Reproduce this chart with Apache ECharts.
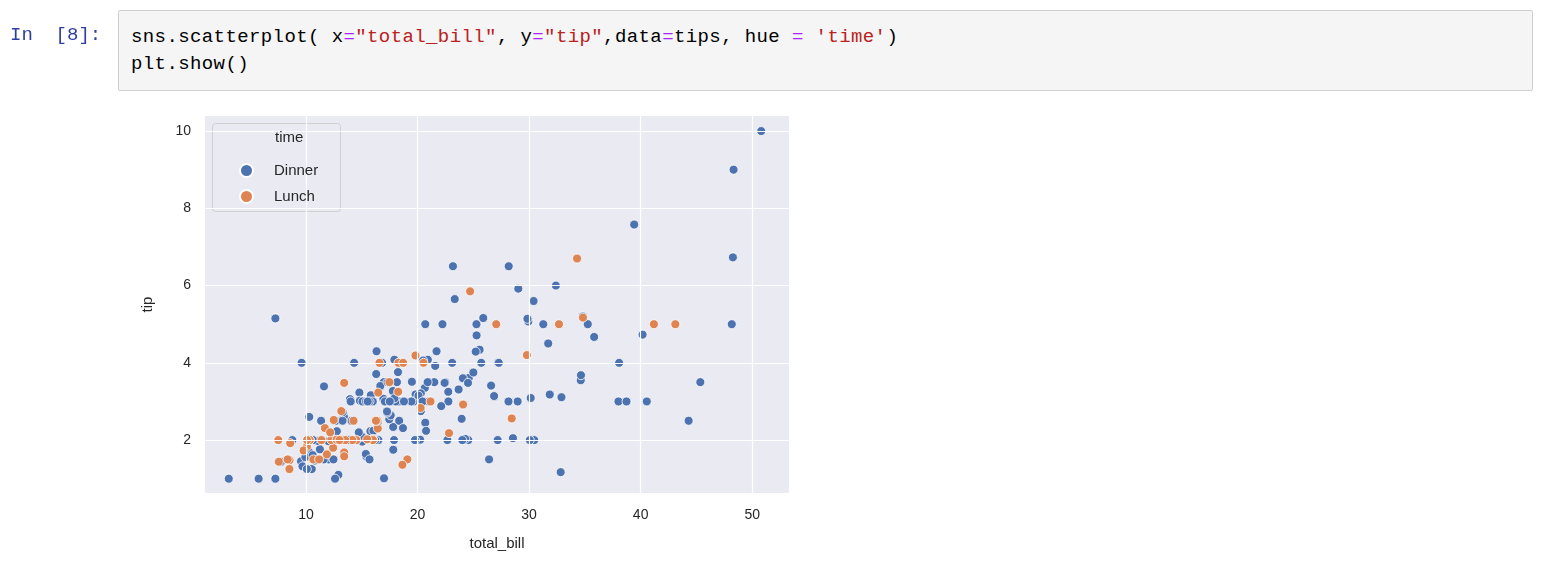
<!DOCTYPE html>
<html><head><meta charset="utf-8">
<script src="https://cdn.jsdelivr.net/npm/echarts@6/dist/echarts.min.js"></script>
<style>
body{margin:0;background:#fff;width:1545px;height:564px;overflow:hidden;position:relative}
#chart{position:absolute;left:0;top:0;width:1545px;height:564px}
.prompt{position:absolute;left:10px;top:24px;font:19px "Liberation Mono",monospace;color:#303f9f;white-space:pre}
.cell{position:absolute;left:118px;top:10px;width:1415px;height:81px;background:#f5f5f5;border:1px solid #cfcfcf;border-radius:2px;box-sizing:border-box}
.code{position:absolute;left:12px;top:13px;font:19px/27px "Liberation Mono",monospace;color:#000;white-space:pre;letter-spacing:0.4px}
.s{color:#ba2121}.o{color:#aa22ff}
</style></head><body>
<div id="chart"></div>
<div class="prompt">In  [8]:</div>
<div class="cell"><div class="code">sns.scatterplot( x<span class="o">=</span><span class="s">"total_bill"</span>, y<span class="o">=</span><span class="s">"tip"</span>,data<span class="o">=</span>tips, hue <span class="o">=</span> <span class="s">'time'</span>)
plt.show()</div></div>
<script>
const dinner = [[16.99,1.01],[10.34,1.66],[21.01,3.5],[23.68,3.31],[24.59,3.61],[25.29,4.71],[8.77,2.0],[26.88,3.12],[15.04,1.96],[14.78,3.23],[10.27,1.71],[35.26,5.0],[15.42,1.57],[18.43,3.0],[14.83,3.02],[21.58,3.92],[10.33,1.67],[16.29,3.71],[16.97,3.5],[20.65,3.35],[17.92,4.08],[20.29,2.75],[15.77,2.23],[39.42,7.58],[19.82,3.18],[17.81,2.34],[13.37,2.0],[12.69,2.0],[21.7,4.3],[19.65,3.0],[9.55,1.45],[18.35,2.5],[15.06,3.0],[20.69,2.45],[17.78,3.27],[24.06,3.6],[16.31,2.0],[16.93,3.07],[18.69,2.31],[31.27,5.0],[16.04,2.24],[17.46,2.54],[13.94,3.06],[9.68,1.32],[30.4,5.6],[18.29,3.0],[22.23,5.0],[32.4,6.0],[28.55,2.05],[18.04,3.0],[12.54,2.5],[10.29,2.6],[34.81,5.2],[9.94,1.56],[25.56,4.34],[19.49,3.51],[38.01,3.0],[26.41,1.5],[11.24,1.76],[48.27,6.73],[20.29,3.21],[13.81,2.0],[11.02,1.98],[18.29,3.76],[17.59,2.64],[20.08,3.15],[16.45,2.47],[3.07,1.0],[20.23,2.01],[15.01,2.09],[12.02,1.97],[17.07,3.0],[26.86,3.14],[25.28,5.0],[14.73,2.2],[10.51,1.25],[17.92,3.08],[27.2,4.0],[22.76,3.0],[17.29,2.71],[19.44,3.0],[16.66,3.4],[28.97,3.0],[22.49,3.5],[5.75,1.0],[16.32,4.3],[22.75,3.25],[40.17,4.73],[27.28,4.0],[12.03,1.5],[21.01,3.0],[12.46,1.5],[11.35,2.5],[15.38,3.0],[44.3,2.5],[22.42,3.48],[20.92,4.08],[15.36,1.64],[20.49,4.06],[25.21,4.29],[18.24,3.76],[14.31,4.0],[14.0,3.0],[7.25,1.0],[38.07,4.0],[23.95,2.55],[25.71,4.0],[17.31,3.5],[29.93,5.07],[14.07,2.5],[13.13,2.0],[17.26,2.74],[24.55,2.0],[19.77,2.0],[29.85,5.14],[48.17,5.0],[25.0,3.75],[13.39,2.61],[16.49,2.0],[21.5,3.5],[12.66,2.5],[16.21,2.0],[13.81,2.0],[17.51,3.0],[24.52,3.48],[20.76,2.24],[31.71,4.5],[10.59,1.61],[10.63,2.0],[50.81,10.0],[15.81,3.16],[7.25,5.15],[31.85,3.18],[16.82,4.0],[32.9,3.11],[17.89,2.0],[14.48,2.0],[9.6,4.0],[34.63,3.55],[34.65,3.68],[23.33,5.65],[45.35,3.5],[23.17,6.5],[40.55,3.0],[20.69,5.0],[20.9,3.5],[30.46,2.0],[18.15,3.5],[23.1,4.0],[15.69,1.5],[26.59,3.41],[38.73,3.0],[24.27,2.03],[12.76,2.23],[30.06,2.0],[25.89,5.16],[48.33,9.0],[13.27,2.5],[28.17,6.5],[12.9,1.1],[28.15,3.0],[11.59,1.5],[7.74,1.44],[30.14,3.09],[15.98,3.0],[20.45,3.0],[13.28,2.72],[22.12,2.88],[24.01,2.0],[15.69,3.0],[11.61,3.39],[10.77,1.47],[15.53,3.0],[10.07,1.25],[12.6,1.0],[32.83,1.17],[35.83,4.67],[29.03,5.92],[27.18,2.0],[22.67,2.0],[17.82,1.75],[18.78,3.0]];
const lunch = [[10.07,1.83],[32.68,5.0],[15.98,2.03],[34.83,5.17],[13.03,2.0],[18.28,4.0],[24.71,5.85],[21.16,3.0],[10.65,1.5],[12.43,1.8],[24.08,2.92],[11.69,2.31],[13.42,1.68],[14.26,2.5],[15.95,2.0],[12.48,2.52],[29.8,4.2],[8.52,1.48],[14.52,2.0],[11.38,2.0],[22.82,2.18],[19.08,1.5],[20.27,2.83],[11.17,1.5],[12.26,2.0],[18.26,3.25],[8.51,1.25],[10.33,2.0],[14.15,2.0],[16.0,2.0],[13.16,2.75],[17.47,3.5],[34.3,6.7],[41.19,5.0],[27.05,5.0],[16.43,2.3],[8.35,1.5],[18.64,1.36],[11.87,1.63],[9.78,1.73],[7.51,2.0],[19.81,4.19],[28.44,2.56],[15.48,2.02],[16.58,4.0],[7.56,1.44],[10.34,2.0],[43.11,5.0],[13.0,2.0],[13.51,2.0],[18.71,4.0],[12.74,2.01],[13.0,2.0],[16.4,2.5],[20.53,4.0],[16.47,3.23],[12.16,2.2],[13.42,3.48],[8.58,1.92],[13.42,1.58],[16.27,2.5],[10.09,2.0]];
const xTicks = [10,20,30,40,50];
const yTicks = [2,4,6,8,10];

const F = 'Liberation Sans, Arial, sans-serif';
const chart = echarts.init(document.getElementById('chart'));
const gridLines = {silent:true, symbol:'none', label:{show:false}, lineStyle:{color:'#fff',width:1.2,type:'solid'},
  data: xTicks.map(v=>({xAxis:v})).concat(yTicks.map(v=>({yAxis:v})))};
const sym = (c)=>({color:c,borderColor:'#fff',borderWidth:0.8,opacity:1});
chart.setOption({
  animation:false,
  grid:{left:205,right:756,top:116,bottom:71,backgroundColor:'#eaeaf2',show:true,borderWidth:0},
  xAxis:{type:'value',min:0.94,max:53.3,name:'total_bill',nameLocation:'middle',nameGap:43,
    nameTextStyle:{fontFamily:F,fontSize:15,color:'#262626'},
    axisLine:{show:false},axisTick:{show:false},splitLine:{show:false},
    axisLabel:{customValues:xTicks,fontFamily:F,fontSize:14,color:'#262626',margin:15}},
  yAxis:{type:'value',min:0.63,max:10.39,name:'tip',nameLocation:'middle',nameGap:50,
    nameTextStyle:{fontFamily:F,fontSize:15,color:'#262626'},
    axisLine:{show:false},axisTick:{show:false},splitLine:{show:false},
    axisLabel:{customValues:yTicks,fontFamily:F,fontSize:14,color:'#262626',margin:14}},
  legend:{orient:'vertical',left:234,top:158,itemGap:11,itemWidth:13,itemHeight:13,icon:'circle',z:20,
    textStyle:{fontFamily:F,fontSize:15,color:'#262626',padding:[0,0,0,16]},
    data:['Dinner','Lunch']},
  graphic:[
    {type:'rect',left:212,top:123,z:5,shape:{width:128,height:88,r:3},style:{fill:'rgba(234,234,242,0.8)',stroke:'#d0d0d0',lineWidth:1}},
    {type:'text',left:275,top:130,z:6,style:{text:'time',font:'15px '+F,fill:'#262626'}}
  ],
  series:[
    {name:'Dinner',type:'scatter',data:dinner,symbolSize:9,itemStyle:sym('#4c72b0'),markLine:gridLines,z:3},
    {name:'Lunch',type:'scatter',data:lunch,symbolSize:9,itemStyle:sym('#dd8452'),z:3}
  ]
});
</script></body></html>
